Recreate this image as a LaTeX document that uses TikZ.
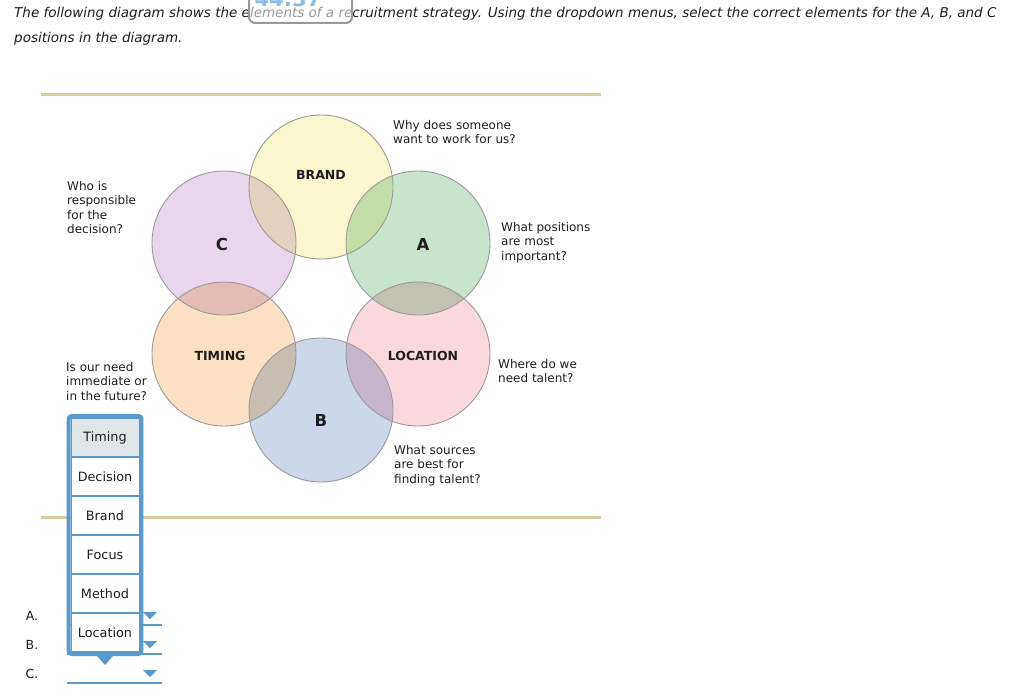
\documentclass[tikz,border=0pt]{standalone}
\usepackage{fontspec}
\setmainfont{DejaVu Sans}
\usetikzlibrary{positioning}

\definecolor{ink}{HTML}{1E1E1E}
\definecolor{rulecol}{HTML}{D9CCA2}
\definecolor{ringgray}{HTML}{9A9A9A}
\definecolor{brandcol}{HTML}{FAF7CF}
\definecolor{ccol}{HTML}{E8D7EC}
\definecolor{acol}{HTML}{C8E4CC}
\definecolor{timecol}{HTML}{FBE0C4}
\definecolor{bcol}{HTML}{CCD8EA}
\definecolor{loccol}{HTML}{F9D8DE}
\definecolor{drop}{HTML}{5A99CC}
\definecolor{rowgray}{HTML}{DEE6E9}
\definecolor{timer}{HTML}{8DBDE6}

\begin{document}
\begin{tikzpicture}[x=1pt, y=-1pt, line join=round,
  every node/.style={inner sep=0pt, text=ink},
  note/.style={anchor=north west, align=left, font=\fontsize{12}{14.5}\selectfont},
  tag/.style={font=\fontsize{12.5}{14}\selectfont\bfseries},
  letter/.style={font=\fontsize{16.5}{18}\selectfont\bfseries},
  choice/.style={minimum width=68pt, minimum height=38.2pt, draw=drop, line width=.8pt,
    fill=white, font=\fontsize{12.8}{14}\selectfont},
  ring/.style={draw=ringgray, line width=.9pt}]
\clip (0,0) rectangle (1024,693);
\fill[white] (0,0) rectangle (1024,693);

% question text and timer
\node[anchor=base west, font=\fontsize{13.5}{15}\selectfont\itshape] (line1) at (14,17.5)
  {The following diagram shows the elements of a recruitment strategy. Using the dropdown menus, select the correct elements for the A, B, and C};
\node[anchor=base west, font=\fontsize{13.5}{15}\selectfont\itshape] (line2) at (14,42.5) {positions in the diagram.};
\draw[ringgray, line width=2pt, fill=white, fill opacity=.55, rounded corners=6pt] (249,-20) rectangle (352,23);
\node[anchor=base, font=\fontsize{21}{21}\selectfont\bfseries, text=timer] (clock) at (288,7) {44:37};

% rules
\draw[rulecol, line width=3pt] (41,94) -- (601,94);
\draw[rulecol, line width=3pt] (41,517) -- (601,517);

% circles
\begin{scope}[blend group=multiply]
\foreach \cx/\cy/\col in {321/187/brandcol, 224/243/ccol, 418/243/acol, 224/354/timecol, 321/410/bcol, 418/354/loccol}
  \fill[\col] (\cx,\cy) circle (72);
\end{scope}
\foreach \cx/\cy in {321/187, 224/243, 418/243, 224/354, 321/410, 418/354}
  \draw[ring] (\cx,\cy) circle (72);

\node[tag] (brand) at (321,175) {BRAND};
\node[tag] (timing) at (220,356) {TIMING};
\node[tag] (location) at (423,356) {LOCATION};
\node[letter] (c) at (222,244) {C};
\node[letter] (a) at (423,244) {A};
\node[letter] (b) at (321,420) {B};

% questions
\node[note] (why) at (393,120) {Why does someone\\want to work for us?};
\node[note] (who) at (67,181) {Who is\\responsible\\for the\\decision?};
\node[note] (what) at (501,222) {What positions\\are most\\important?};
\node[note] (need) at (66,362) {Is our need\\immediate or\\in the future?};
\node[note] (where) at (498,359) {Where do we\\need talent?};
\node[note] (sources) at (394,445) {What sources\\are best for\\finding talent?};

% answer rows
\node[font=\fontsize{12.5}{14}\selectfont] (la) at (32,616) {A.};
\node[font=\fontsize{12.5}{14}\selectfont] (lb) at (32,645) {B.};
\node[font=\fontsize{12.5}{14}\selectfont] (lc) at (32,674) {C.};
\foreach \ly in {625,654,683}
  \draw[drop, line width=1.6pt] (67,\ly) -- (162,\ly);
\foreach \ty in {612,641,670}
  \fill[drop] (143,\ty) -- (157,\ty) -- (150,\ty+7) -- cycle;

% open dropdown list
\node[choice, fill=rowgray] (otiming) at (105,437.5) {Timing};
\node[choice, below=0pt of otiming] (odecision) {Decision};
\node[choice, below=0pt of odecision] (obrand) {Brand};
\node[choice, below=0pt of obrand] (ofocus) {Focus};
\node[choice, below=0pt of ofocus] (omethod) {Method};
\node[choice, below=0pt of omethod] (olocation) {Location};
\draw[drop, line width=4pt, rounded corners=3pt] ([xshift=-2pt,yshift=2pt]otiming.north west) rectangle ([xshift=2pt,yshift=-2pt]olocation.south east);
\fill[drop] (97,656) -- (113,656) -- (105,665) -- cycle;
\end{tikzpicture}
\end{document}
